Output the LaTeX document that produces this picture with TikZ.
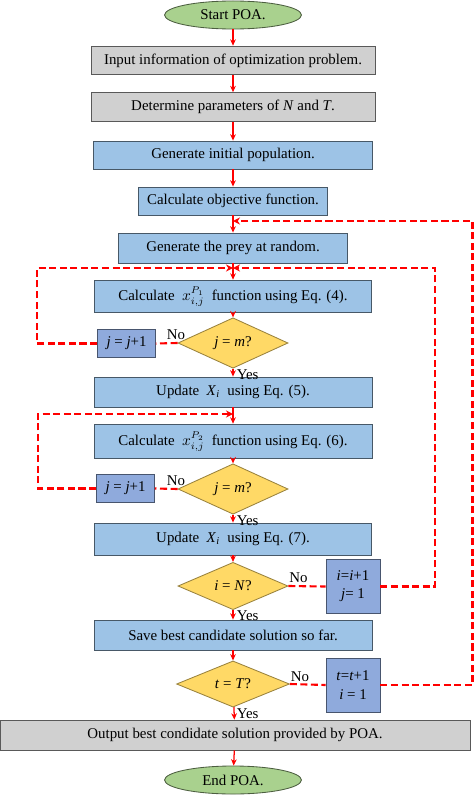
\documentclass[tikz,border=0pt]{standalone}
\usepackage{fontspec}
\setmainfont{Liberation Serif}
\usepackage{amsmath}
\usepackage{tikz}
\usetikzlibrary{arrows.meta,calc,positioning,shapes.geometric}
\definecolor{poagray}{RGB}{208,208,208}
\definecolor{poablue}{RGB}{157,195,230}
\definecolor{poaincr}{RGB}{143,170,220}
\definecolor{poagold}{RGB}{255,217,102}
\definecolor{poagreen}{RGB}{169,209,142}
\newcommand{\vi}[1]{\textit{#1}}
\tikzset{
    mybox/.style={rectangle,draw=black!65,line width=0.6pt,inner sep=0pt,align=center},
    graybox/.style={mybox,fill=poagray},
    bluebox/.style={mybox,draw=poablue!45!black,fill=poablue},
    incbox/.style={mybox,draw=poaincr!50!black,fill=poaincr,minimum width=1.45cm},
    mydec/.style={diamond,draw=poagold!60!black,fill=poagold,line width=0.6pt,inner sep=0pt,
        minimum width=2.75cm,minimum height=0.86cm},
    myterm/.style={ellipse,draw=poagreen!45!black,fill=poagreen,line width=0.6pt,inner sep=0pt,
        minimum width=3.42cm,minimum height=0.7cm},
    mylabel/.style={inner sep=0.5pt},
    myarrow/.style={draw=red,line width=0.9pt,-{Stealth[length=4.5pt,width=4pt]}},
    myloop/.style={draw=red,line width=1.5pt,dash pattern=on 5pt off 2.5pt,
        -{Stealth[length=5pt,width=5pt]}},
    myno/.style={draw=red,line width=1.5pt,dash pattern=on 5pt off 2.5pt},
    every node/.style={font=\fontsize{10.6}{12}\selectfont}
}

\begin{document}
\begin{tikzpicture}[x=0.025cm,y=-0.025cm]
  \useasboundingbox (0,0) rectangle (474,795);

  % main column
  \node[myterm] (start) at (233,15) {Start POA.};
  \node[graybox,minimum width=7.1cm,minimum height=0.72cm] (input) at (233,60.5)
    {Input information of optimization problem.};
  \node[graybox,minimum width=7.1cm,minimum height=0.72cm] (param) at (233,107)
    {Determine parameters of \vi{N} and \vi{T}.};
  \node[bluebox,minimum width=6.98cm,minimum height=0.7cm] (init) at (233,155)
    {Generate initial population.};
  \node[bluebox,minimum width=4.72cm,minimum height=0.7cm] (obj) at (233,201)
    {Calculate objective function.};
  \node[bluebox,minimum width=5.72cm,minimum height=0.75cm] (prey) at (233,248)
    {Generate the prey at random.};
  \node[bluebox,minimum width=6.93cm,minimum height=0.82cm] (phase1) at (233,296.5)
    {Calculate \ $x_{i,j}^{P_1}$ \ function using Eq. (4).};
  \node[mydec] (dec1) at (233,343) {\vi{j} = \vi{m}?};
  \node[bluebox,minimum width=6.95cm,minimum height=0.75cm] (upd1) at (233,392)
    {Update \ \vi{X}\textsubscript{\vi{i}} \ using Eq. (5).};
  \node[bluebox,minimum width=6.95cm,minimum height=0.87cm] (phase2) at (233,441.5)
    {Calculate \ $x_{i,j}^{P_2}$ \ function using Eq. (6).};
  \node[mydec] (dec2) at (233,489) {\vi{j} = \vi{m}?};
  \node[bluebox,minimum width=6.93cm,minimum height=0.8cm] (upd2) at (233,539)
    {Update \ \vi{X}\textsubscript{\vi{i}} \ using Eq. (7).};
  \node[mydec] (dec3) at (233,586) {\vi{i} = \vi{N}?};
  \node[bluebox,minimum width=6.95cm,minimum height=0.75cm] (best) at (233,635)
    {Save best candidate solution so far.};
  \node[mydec,minimum width=2.82cm,minimum height=0.83cm] (dec4) at (233,684) {\vi{t} = \vi{T}?};
  \node[graybox,minimum width=11.75cm,minimum height=0.75cm] (output) at (235,735)
    {Output best condidate solution provided by POA.};
  \node[myterm] (stop) at (233,780) {End POA.};

  % counters
  \node[incbox,minimum height=0.72cm] (jinc1) at (126.5,343.5) {\vi{j} = \vi{j}+1};
  \node[incbox,minimum height=0.72cm] (jinc2) at (125.5,488.5) {\vi{j} = \vi{j}+1};
  \node[incbox,minimum width=1.35cm,minimum height=1.37cm] (iinc) at (353,586.5)
    {\vi{i}=\vi{i}+1\\[1pt]\vi{j}= 1};
  \node[incbox,minimum width=1.35cm,minimum height=1.35cm] (tinc) at (353,685)
    {\vi{t}=\vi{t}+1\\[1pt]\vi{i} = 1};

  % junctions
  \coordinate (jn0) at (233,221);
  \coordinate (jn1) at (233,268);
  \coordinate (jn2) at (233,414);

  % forward arrows
  \draw[myarrow] (start) -- (input);
  \draw[myarrow] (input) -- (param);
  \draw[myarrow] (param) -- (init);
  \draw[myarrow] (init) -- (obj);
  \draw[myarrow] (obj) -- (prey);
  \draw[myarrow] (prey) -- (phase1);
  \draw[myarrow] (phase1) -- (dec1);
  \draw[myarrow] (dec1) -- (upd1);
  \draw[myarrow] (upd1) -- (phase2);
  \draw[myarrow] (phase2) -- (dec2);
  \draw[myarrow] (dec2) -- (upd2);
  \draw[myarrow] (upd2) -- (dec3);
  \draw[myarrow] (dec3) -- (best);
  \draw[myarrow] (best) -- (dec4);
  \draw[myarrow] (dec4) -- (output);
  \draw[myarrow] (output) -- (stop);

  % loops
  \draw[myno] (dec1.west) -- (jinc1.east);
  \draw[myloop] (jinc1.west) -- ++(-60,0) |- (jn1);
  \draw[myno] (dec2.west) -- (jinc2.east);
  \draw[myloop] (jinc2.west) -- ++(-58,0) |- (jn2);
  \draw[myno] (dec3.east) -- (iinc.west);
  \draw[myloop] (iinc.east) -- (435,586.5) |- (jn1);
  \draw[myno] (dec4.east) -- (tinc.west);
  \draw[myloop] (tinc.east) -- (472.5,685) |- (jn0);

  % labels
  \node[mylabel,above left=2pt and -6pt] (no1) at (dec1.west) {No};
  \node[mylabel,below right=0pt and 2pt] (yes1) at (dec1.south) {Yes};
  \node[mylabel,above left=2pt and -6pt] (no2) at (dec2.west) {No};
  \node[mylabel,below right=0pt and 2pt] (yes2) at (dec2.south) {Yes};
  \node[mylabel,above right=2pt and 0pt] (no3) at (dec3.east) {No};
  \node[mylabel,below right=0pt and 2pt] (yes3) at (dec3.south) {Yes};
  \node[mylabel,above right=1pt and 0pt] (no4) at (dec4.east) {No};
  \node[mylabel,below right=0pt and 2pt] (yes4) at (dec4.south) {Yes};

\end{tikzpicture}
\end{document}
